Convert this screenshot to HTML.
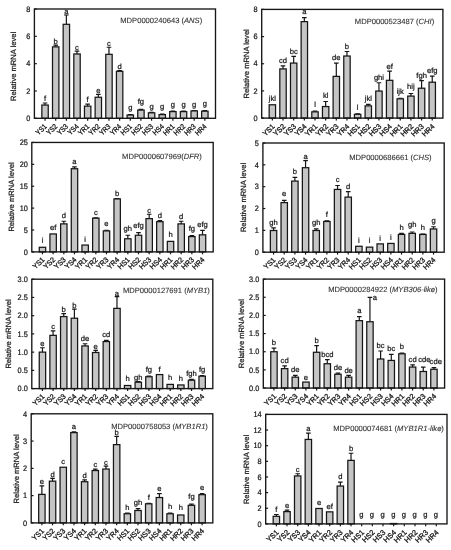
<!DOCTYPE html><html><head><meta charset="utf-8"><title>Relative mRNA level</title>
<style>html,body{margin:0;padding:0;background:#fff}svg{display:block}text{font-family:"Liberation Sans",Arial,Helvetica,sans-serif;font-size:7.6px;fill:#151515;stroke:#151515;stroke-width:0.22px;text-rendering:geometricPrecision}.ax{fill:none;stroke:#161616;stroke-width:1.35}.tk{stroke:#161616;stroke-width:1.2;fill:none}.b{fill:#c5c5c5;stroke:#161616;stroke-width:1.25}.e{stroke:#161616;stroke-width:1.2;fill:none}.x{text-anchor:end;font-size:7.4px;stroke-width:0.3px}.t{text-anchor:end;font-size:7.9px}.r{text-anchor:end}.ti{fill:#303030;stroke:#303030;stroke-width:0.1px}.m{text-anchor:middle}</style></head><body>
<svg width="451" height="550" viewBox="0 0 451 550">
<rect width="451" height="550" fill="#fff"/>
<g id="P1">
<path class="e" d="M45.05 105.05V103M42.75 103H47.35"/>
<rect class="b" x="41.85" y="105.05" width="6.4" height="13.25"/>
<text class="m" x="45.05" y="101.3">f</text>
<path class="e" d="M55.71 46.85V45.21M53.41 45.21H58.01"/>
<rect class="b" x="52.51" y="46.85" width="6.4" height="71.45"/>
<text class="m" x="55.71" y="44.1">b</text>
<path class="e" d="M66.36 24.3V15.01M64.06 15.01H68.66"/>
<rect class="b" x="63.16" y="24.3" width="6.4" height="94"/>
<text class="m" x="66.36" y="14.2">a</text>
<path class="e" d="M77.01 53.95V51.22M74.71 51.22H79.31"/>
<rect class="b" x="73.81" y="53.95" width="6.4" height="64.35"/>
<text class="m" x="77.01" y="50.3">c</text>
<path class="e" d="M87.66 106.14V104.09M85.36 104.09H89.96"/>
<rect class="b" x="84.46" y="106.14" width="6.4" height="12.16"/>
<text class="m" x="87.66" y="102.4">f</text>
<path class="e" d="M98.32 97.26V94.39M96.02 94.39H100.62"/>
<rect class="b" x="95.12" y="97.26" width="6.4" height="21.04"/>
<text class="m" x="98.32" y="92.9">e</text>
<path class="e" d="M108.97 54.36V47.26M106.67 47.26H111.27"/>
<rect class="b" x="105.77" y="54.36" width="6.4" height="63.94"/>
<text class="m" x="108.97" y="45.9">c</text>
<path class="e" d="M119.62 71.3V70.62M117.32 70.62H121.92"/>
<rect class="b" x="116.42" y="71.3" width="6.4" height="47"/>
<text class="m" x="119.62" y="68.9">d</text>
<path class="e" d="M130.28 115.02V114.61M127.98 114.61H132.58"/>
<rect class="b" x="127.08" y="115.02" width="6.4" height="3.28"/>
<text class="m" x="130.28" y="109.7">g</text>
<path class="e" d="M140.93 110.1V109.42M138.63 109.42H143.23"/>
<rect class="b" x="137.73" y="110.1" width="6.4" height="8.2"/>
<text class="m" x="140.93" y="103.7">fg</text>
<path class="e" d="M151.58 112.83V112.29M149.28 112.29H153.88"/>
<rect class="b" x="148.38" y="112.83" width="6.4" height="5.47"/>
<text class="m" x="151.58" y="108.5">g</text>
<path class="e" d="M162.24 114.61V114.2M159.94 114.2H164.54"/>
<rect class="b" x="159.04" y="114.61" width="6.4" height="3.69"/>
<text class="m" x="162.24" y="109.2">g</text>
<path class="e" d="M172.89 111.61V111.2M170.59 111.2H175.19"/>
<rect class="b" x="169.69" y="111.61" width="6.4" height="6.69"/>
<text class="m" x="172.89" y="107.4">g</text>
<path class="e" d="M183.54 111.61V111.2M181.24 111.2H185.84"/>
<rect class="b" x="180.34" y="111.61" width="6.4" height="6.69"/>
<text class="m" x="183.54" y="107.4">g</text>
<path class="e" d="M194.19 110.92V110.51M191.89 110.51H196.49"/>
<rect class="b" x="190.99" y="110.92" width="6.4" height="7.38"/>
<text class="m" x="194.19" y="107">g</text>
<path class="e" d="M204.85 111.2V110.65M202.55 110.65H207.15"/>
<rect class="b" x="201.65" y="111.2" width="6.4" height="7.1"/>
<text class="m" x="204.85" y="106.3">g</text>
<rect class="ax" x="34.4" y="9" width="181.1" height="109.3"/>
<path class="tk" d="M34.4 118.3h2.4"/>
<text class="t" transform="translate(30.4 121) scale(0.93 1)">0</text>
<path class="tk" d="M34.4 90.97h2.4"/>
<text class="t" transform="translate(30.4 93.67) scale(0.93 1)">2</text>
<path class="tk" d="M34.4 63.65h2.4"/>
<text class="t" transform="translate(30.4 66.35) scale(0.93 1)">4</text>
<path class="tk" d="M34.4 36.33h2.4"/>
<text class="t" transform="translate(30.4 39.03) scale(0.93 1)">6</text>
<path class="tk" d="M34.4 9h2.4"/>
<text class="t" transform="translate(30.4 11.7) scale(0.93 1)">8</text>
<path class="tk" d="M45.05 118.3v2.4"/>
<text class="x" transform="translate(47.25 127.1) rotate(-44) scale(0.86 1)">YS1</text>
<path class="tk" d="M55.71 118.3v2.4"/>
<text class="x" transform="translate(57.91 127.1) rotate(-44) scale(0.86 1)">YS2</text>
<path class="tk" d="M66.36 118.3v2.4"/>
<text class="x" transform="translate(68.56 127.1) rotate(-44) scale(0.86 1)">YS3</text>
<path class="tk" d="M77.01 118.3v2.4"/>
<text class="x" transform="translate(79.21 127.1) rotate(-44) scale(0.86 1)">YS4</text>
<path class="tk" d="M87.66 118.3v2.4"/>
<text class="x" transform="translate(89.86 127.1) rotate(-44) scale(0.86 1)">YR1</text>
<path class="tk" d="M98.32 118.3v2.4"/>
<text class="x" transform="translate(100.52 127.1) rotate(-44) scale(0.86 1)">YR2</text>
<path class="tk" d="M108.97 118.3v2.4"/>
<text class="x" transform="translate(111.17 127.1) rotate(-44) scale(0.86 1)">YR3</text>
<path class="tk" d="M119.62 118.3v2.4"/>
<text class="x" transform="translate(121.82 127.1) rotate(-44) scale(0.86 1)">YR4</text>
<path class="tk" d="M130.28 118.3v2.4"/>
<text class="x" transform="translate(132.48 127.1) rotate(-44) scale(0.86 1)">HS1</text>
<path class="tk" d="M140.93 118.3v2.4"/>
<text class="x" transform="translate(143.13 127.1) rotate(-44) scale(0.86 1)">HS2</text>
<path class="tk" d="M151.58 118.3v2.4"/>
<text class="x" transform="translate(153.78 127.1) rotate(-44) scale(0.86 1)">HS3</text>
<path class="tk" d="M162.24 118.3v2.4"/>
<text class="x" transform="translate(164.44 127.1) rotate(-44) scale(0.86 1)">HS4</text>
<path class="tk" d="M172.89 118.3v2.4"/>
<text class="x" transform="translate(175.09 127.1) rotate(-44) scale(0.86 1)">HR1</text>
<path class="tk" d="M183.54 118.3v2.4"/>
<text class="x" transform="translate(185.74 127.1) rotate(-44) scale(0.86 1)">HR2</text>
<path class="tk" d="M194.19 118.3v2.4"/>
<text class="x" transform="translate(196.39 127.1) rotate(-44) scale(0.86 1)">HR3</text>
<path class="tk" d="M204.85 118.3v2.4"/>
<text class="x" transform="translate(207.05 127.1) rotate(-44) scale(0.86 1)">HR4</text>
<text class="m" transform="translate(16.2 66.4) rotate(-90)">Relative mRNA level</text>
<text class="r ti" x="202.2" y="23.3">MDP0000240643 (<tspan font-style="italic">ANS</tspan>)</text>
</g>
<g id="P2">
<rect class="b" x="39.27" y="247.3" width="6.4" height="4.6"/>
<text class="m" x="42.47" y="243.4">i</text>
<rect class="b" x="49.94" y="233.95" width="6.4" height="17.95"/>
<text class="m" x="53.14" y="229.7">ef</text>
<path class="e" d="M63.81 223.88V221.25M61.51 221.25H66.11"/>
<rect class="b" x="60.61" y="223.88" width="6.4" height="28.02"/>
<text class="m" x="63.81" y="217.9">d</text>
<path class="e" d="M74.48 168.72V166.97M72.18 166.97H76.78"/>
<rect class="b" x="71.28" y="168.72" width="6.4" height="83.18"/>
<text class="m" x="74.48" y="163.6">a</text>
<rect class="b" x="81.95" y="245.07" width="6.4" height="6.83"/>
<text class="m" x="85.15" y="241.6">i</text>
<path class="e" d="M95.82 218.19V217.75M93.52 217.75H98.12"/>
<rect class="b" x="92.62" y="218.19" width="6.4" height="33.71"/>
<text class="m" x="95.82" y="214.6">c</text>
<path class="e" d="M106.49 230.89V230.23M104.19 230.23H108.79"/>
<rect class="b" x="103.29" y="230.89" width="6.4" height="21.01"/>
<text class="m" x="106.49" y="226.3">e</text>
<path class="e" d="M117.16 198.93V198.49M114.86 198.49H119.46"/>
<rect class="b" x="113.96" y="198.93" width="6.4" height="52.97"/>
<text class="m" x="117.16" y="195.7">b</text>
<path class="e" d="M127.84 238.77V235.26M125.54 235.26H130.14"/>
<rect class="b" x="124.64" y="238.77" width="6.4" height="13.13"/>
<text class="m" x="127.84" y="230.6">gh</text>
<path class="e" d="M138.51 235.26V232.64M136.21 232.64H140.81"/>
<rect class="b" x="135.31" y="235.26" width="6.4" height="16.64"/>
<text class="m" x="138.51" y="228.4">efg</text>
<path class="e" d="M149.18 218.63V214.25M146.88 214.25H151.48"/>
<rect class="b" x="145.98" y="218.63" width="6.4" height="33.27"/>
<text class="m" x="149.18" y="212.5">c</text>
<path class="e" d="M159.85 221.69V220.6M157.55 220.6H162.15"/>
<rect class="b" x="156.65" y="221.69" width="6.4" height="30.21"/>
<text class="m" x="159.85" y="218.4">d</text>
<rect class="b" x="167.32" y="241.39" width="6.4" height="10.51"/>
<text class="m" x="170.52" y="237.3">h</text>
<path class="e" d="M181.19 223.88V221.25M178.89 221.25H183.49"/>
<rect class="b" x="177.99" y="223.88" width="6.4" height="28.02"/>
<text class="m" x="181.19" y="219.1">d</text>
<path class="e" d="M191.86 236.58V235.7M189.56 235.7H194.16"/>
<rect class="b" x="188.66" y="236.58" width="6.4" height="15.32"/>
<text class="m" x="191.86" y="230.6">fg</text>
<path class="e" d="M202.53 234.83V230.45M200.23 230.45H204.83"/>
<rect class="b" x="199.33" y="234.83" width="6.4" height="17.07"/>
<text class="m" x="202.53" y="226.9">efg</text>
<rect class="ax" x="31.8" y="142.45" width="181.4" height="109.45"/>
<path class="tk" d="M31.8 251.9h2.4"/>
<text class="t" transform="translate(27.8 254.6) scale(0.93 1)">0</text>
<path class="tk" d="M31.8 230.01h2.4"/>
<text class="t" transform="translate(27.8 232.71) scale(0.93 1)">5</text>
<path class="tk" d="M31.8 208.12h2.4"/>
<text class="t" transform="translate(27.8 210.82) scale(0.93 1)">10</text>
<path class="tk" d="M31.8 186.23h2.4"/>
<text class="t" transform="translate(27.8 188.93) scale(0.93 1)">15</text>
<path class="tk" d="M31.8 164.34h2.4"/>
<text class="t" transform="translate(27.8 167.04) scale(0.93 1)">20</text>
<path class="tk" d="M31.8 142.45h2.4"/>
<text class="t" transform="translate(27.8 145.15) scale(0.93 1)">25</text>
<path class="tk" d="M42.47 251.9v2.4"/>
<text class="x" transform="translate(45.07 260.3) rotate(-44) scale(0.95 1)">YS1</text>
<path class="tk" d="M53.14 251.9v2.4"/>
<text class="x" transform="translate(55.74 260.3) rotate(-44) scale(0.95 1)">YS2</text>
<path class="tk" d="M63.81 251.9v2.4"/>
<text class="x" transform="translate(66.41 260.3) rotate(-44) scale(0.95 1)">YS3</text>
<path class="tk" d="M74.48 251.9v2.4"/>
<text class="x" transform="translate(77.08 260.3) rotate(-44) scale(0.95 1)">YS4</text>
<path class="tk" d="M85.15 251.9v2.4"/>
<text class="x" transform="translate(87.75 260.3) rotate(-44) scale(0.95 1)">YR1</text>
<path class="tk" d="M95.82 251.9v2.4"/>
<text class="x" transform="translate(98.42 260.3) rotate(-44) scale(0.95 1)">YR2</text>
<path class="tk" d="M106.49 251.9v2.4"/>
<text class="x" transform="translate(109.09 260.3) rotate(-44) scale(0.95 1)">YR3</text>
<path class="tk" d="M117.16 251.9v2.4"/>
<text class="x" transform="translate(119.76 260.3) rotate(-44) scale(0.95 1)">YR4</text>
<path class="tk" d="M127.84 251.9v2.4"/>
<text class="x" transform="translate(130.44 260.3) rotate(-44) scale(0.95 1)">HS1</text>
<path class="tk" d="M138.51 251.9v2.4"/>
<text class="x" transform="translate(141.11 260.3) rotate(-44) scale(0.95 1)">HS2</text>
<path class="tk" d="M149.18 251.9v2.4"/>
<text class="x" transform="translate(151.78 260.3) rotate(-44) scale(0.95 1)">HS3</text>
<path class="tk" d="M159.85 251.9v2.4"/>
<text class="x" transform="translate(162.45 260.3) rotate(-44) scale(0.95 1)">HS4</text>
<path class="tk" d="M170.52 251.9v2.4"/>
<text class="x" transform="translate(173.12 260.3) rotate(-44) scale(0.95 1)">HR1</text>
<path class="tk" d="M181.19 251.9v2.4"/>
<text class="x" transform="translate(183.79 260.3) rotate(-44) scale(0.95 1)">HR2</text>
<path class="tk" d="M191.86 251.9v2.4"/>
<text class="x" transform="translate(194.46 260.3) rotate(-44) scale(0.95 1)">HR3</text>
<path class="tk" d="M202.53 251.9v2.4"/>
<text class="x" transform="translate(205.13 260.3) rotate(-44) scale(0.95 1)">HR4</text>
<text class="m" transform="translate(13.8 197) rotate(-90)">Relative mRNA level</text>
<text class="r ti" x="201.9" y="159">MDP0000607969(<tspan font-style="italic">DFR</tspan>)</text>
</g>
<g id="P3">
<path class="e" d="M42.45 352.13V347.76M40.15 347.76H44.75"/>
<rect class="b" x="39.25" y="352.13" width="6.4" height="36.47"/>
<text class="m" x="42.45" y="345.6">e</text>
<path class="e" d="M53.09 335.36V330.8M50.79 330.8H55.39"/>
<rect class="b" x="49.89" y="335.36" width="6.4" height="53.24"/>
<text class="m" x="53.09" y="329.2">c</text>
<path class="e" d="M63.74 316.58V313.66M61.44 313.66H66.04"/>
<rect class="b" x="60.54" y="316.58" width="6.4" height="72.02"/>
<text class="m" x="63.74" y="311.9">b</text>
<path class="e" d="M74.39 318.22V309.1M72.09 309.1H76.69"/>
<rect class="b" x="71.19" y="318.22" width="6.4" height="70.38"/>
<text class="m" x="74.39" y="307.5">b</text>
<path class="e" d="M85.04 345.93V343.75M82.74 343.75H87.34"/>
<rect class="b" x="81.84" y="345.93" width="6.4" height="42.67"/>
<text class="m" x="85.04" y="341.4">de</text>
<path class="e" d="M95.68 352.5V350.31M93.38 350.31H97.98"/>
<rect class="b" x="92.48" y="352.5" width="6.4" height="36.1"/>
<text class="m" x="95.68" y="348.5">e</text>
<path class="e" d="M106.33 341.56V340.46M104.03 340.46H108.63"/>
<rect class="b" x="103.13" y="341.56" width="6.4" height="47.04"/>
<text class="m" x="106.33" y="337.4">cd</text>
<path class="e" d="M116.98 308.37V296.7M114.68 296.7H119.28"/>
<rect class="b" x="113.78" y="308.37" width="6.4" height="80.23"/>
<text class="m" x="116.98" y="295.7">a</text>
<rect class="b" x="124.42" y="385.5" width="6.4" height="3.1"/>
<text class="m" x="127.62" y="380.8">h</text>
<path class="e" d="M138.27 382.22V381.49M135.97 381.49H140.57"/>
<rect class="b" x="135.07" y="382.22" width="6.4" height="6.38"/>
<text class="m" x="138.27" y="379.7">gh</text>
<path class="e" d="M148.92 376.75V376.2M146.62 376.2H151.22"/>
<rect class="b" x="145.72" y="376.75" width="6.4" height="11.85"/>
<text class="m" x="148.92" y="372.3">fg</text>
<rect class="b" x="156.36" y="374.56" width="6.4" height="14.04"/>
<text class="m" x="159.56" y="371.9">f</text>
<rect class="b" x="167.01" y="384.41" width="6.4" height="4.19"/>
<text class="m" x="170.21" y="379.7">h</text>
<rect class="b" x="177.66" y="384.95" width="6.4" height="3.65"/>
<text class="m" x="180.86" y="381.2">h</text>
<path class="e" d="M191.51 380.21V379.3M189.21 379.3H193.81"/>
<rect class="b" x="188.31" y="380.21" width="6.4" height="8.39"/>
<text class="m" x="191.51" y="375.9">fgh</text>
<path class="e" d="M202.15 376.2V375.65M199.85 375.65H204.45"/>
<rect class="b" x="198.95" y="376.2" width="6.4" height="12.4"/>
<text class="m" x="202.15" y="371.9">fg</text>
<rect class="ax" x="31.8" y="279.2" width="181" height="109.4"/>
<path class="tk" d="M31.8 388.6h2.4"/>
<text class="t" transform="translate(27.8 391.3) scale(0.93 1)">0.0</text>
<path class="tk" d="M31.8 370.37h2.4"/>
<text class="t" transform="translate(27.8 373.07) scale(0.93 1)">0.5</text>
<path class="tk" d="M31.8 352.13h2.4"/>
<text class="t" transform="translate(27.8 354.83) scale(0.93 1)">1.0</text>
<path class="tk" d="M31.8 333.9h2.4"/>
<text class="t" transform="translate(27.8 336.6) scale(0.93 1)">1.5</text>
<path class="tk" d="M31.8 315.67h2.4"/>
<text class="t" transform="translate(27.8 318.37) scale(0.93 1)">2.0</text>
<path class="tk" d="M31.8 297.43h2.4"/>
<text class="t" transform="translate(27.8 300.13) scale(0.93 1)">2.5</text>
<path class="tk" d="M31.8 279.2h2.4"/>
<text class="t" transform="translate(27.8 281.9) scale(0.93 1)">3.0</text>
<path class="tk" d="M42.45 388.6v2.4"/>
<text class="x" transform="translate(45.05 397) rotate(-44) scale(0.95 1)">YS1</text>
<path class="tk" d="M53.09 388.6v2.4"/>
<text class="x" transform="translate(55.69 397) rotate(-44) scale(0.95 1)">YS2</text>
<path class="tk" d="M63.74 388.6v2.4"/>
<text class="x" transform="translate(66.34 397) rotate(-44) scale(0.95 1)">YS3</text>
<path class="tk" d="M74.39 388.6v2.4"/>
<text class="x" transform="translate(76.99 397) rotate(-44) scale(0.95 1)">YS4</text>
<path class="tk" d="M85.04 388.6v2.4"/>
<text class="x" transform="translate(87.64 397) rotate(-44) scale(0.95 1)">YR1</text>
<path class="tk" d="M95.68 388.6v2.4"/>
<text class="x" transform="translate(98.28 397) rotate(-44) scale(0.95 1)">YR2</text>
<path class="tk" d="M106.33 388.6v2.4"/>
<text class="x" transform="translate(108.93 397) rotate(-44) scale(0.95 1)">YR3</text>
<path class="tk" d="M116.98 388.6v2.4"/>
<text class="x" transform="translate(119.58 397) rotate(-44) scale(0.95 1)">YR4</text>
<path class="tk" d="M127.62 388.6v2.4"/>
<text class="x" transform="translate(130.22 397) rotate(-44) scale(0.95 1)">HS1</text>
<path class="tk" d="M138.27 388.6v2.4"/>
<text class="x" transform="translate(140.87 397) rotate(-44) scale(0.95 1)">HS2</text>
<path class="tk" d="M148.92 388.6v2.4"/>
<text class="x" transform="translate(151.52 397) rotate(-44) scale(0.95 1)">HS3</text>
<path class="tk" d="M159.56 388.6v2.4"/>
<text class="x" transform="translate(162.16 397) rotate(-44) scale(0.95 1)">HS4</text>
<path class="tk" d="M170.21 388.6v2.4"/>
<text class="x" transform="translate(172.81 397) rotate(-44) scale(0.95 1)">HR1</text>
<path class="tk" d="M180.86 388.6v2.4"/>
<text class="x" transform="translate(183.46 397) rotate(-44) scale(0.95 1)">HR2</text>
<path class="tk" d="M191.51 388.6v2.4"/>
<text class="x" transform="translate(194.11 397) rotate(-44) scale(0.95 1)">HR3</text>
<path class="tk" d="M202.15 388.6v2.4"/>
<text class="x" transform="translate(204.75 397) rotate(-44) scale(0.95 1)">HR4</text>
<text class="m" transform="translate(11 334) rotate(-90)">Relative mRNA level</text>
<text class="r ti" x="209.9" y="293.2">MDP0000127691 (<tspan font-style="italic">MYB1</tspan>)</text>
</g>
<g id="P4">
<path class="e" d="M41.88 494.4V485.94M39.58 485.94H44.18"/>
<rect class="b" x="38.68" y="494.4" width="6.4" height="28.5"/>
<text class="m" x="41.88" y="483.5">e</text>
<path class="e" d="M52.56 481.17V478.44M50.26 478.44H54.86"/>
<rect class="b" x="49.36" y="481.17" width="6.4" height="41.73"/>
<text class="m" x="52.56" y="476.8">d</text>
<rect class="b" x="60.05" y="467.26" width="6.4" height="55.64"/>
<text class="m" x="63.25" y="464.2">c</text>
<path class="e" d="M73.93 432.62V431.8M71.63 431.8H76.23"/>
<rect class="b" x="70.73" y="432.62" width="6.4" height="90.28"/>
<text class="m" x="73.93" y="429.2">a</text>
<path class="e" d="M84.61 481.71V479.94M82.31 479.94H86.91"/>
<rect class="b" x="81.41" y="481.71" width="6.4" height="41.19"/>
<text class="m" x="84.61" y="477.5">d</text>
<path class="e" d="M95.29 470.53V469.03M92.99 469.03H97.59"/>
<rect class="b" x="92.09" y="470.53" width="6.4" height="52.37"/>
<text class="m" x="95.29" y="466.8">c</text>
<path class="e" d="M105.98 469.03V466.17M103.68 466.17H108.28"/>
<rect class="b" x="102.78" y="469.03" width="6.4" height="53.87"/>
<text class="m" x="105.98" y="464.6">c</text>
<path class="e" d="M116.66 444.62V436.44M114.36 436.44H118.96"/>
<rect class="b" x="113.46" y="444.62" width="6.4" height="78.28"/>
<text class="m" x="116.66" y="435.1">b</text>
<path class="e" d="M127.34 513.76V513.22M125.04 513.22H129.64"/>
<rect class="b" x="124.14" y="513.76" width="6.4" height="9.14"/>
<text class="m" x="127.34" y="509.8">h</text>
<path class="e" d="M138.02 510.49V508.72M135.72 508.72H140.32"/>
<rect class="b" x="134.82" y="510.49" width="6.4" height="12.41"/>
<text class="m" x="138.02" y="504.7">gh</text>
<path class="e" d="M148.71 503.81V503.4M146.41 503.4H151.01"/>
<rect class="b" x="145.51" y="503.81" width="6.4" height="19.09"/>
<text class="m" x="148.71" y="500.2">f</text>
<path class="e" d="M159.39 497.53V493.58M157.09 493.58H161.69"/>
<rect class="b" x="156.19" y="497.53" width="6.4" height="25.37"/>
<text class="m" x="159.39" y="490.7">e</text>
<path class="e" d="M170.07 513.76V513.22M167.77 513.22H172.37"/>
<rect class="b" x="166.87" y="513.76" width="6.4" height="9.14"/>
<text class="m" x="170.07" y="508.6">h</text>
<rect class="b" x="177.55" y="514.99" width="6.4" height="7.91"/>
<text class="m" x="180.75" y="510.2">h</text>
<path class="e" d="M191.44 505.31V504.22M189.14 504.22H193.74"/>
<rect class="b" x="188.24" y="505.31" width="6.4" height="17.59"/>
<text class="m" x="191.44" y="499.1">fg</text>
<path class="e" d="M202.12 494.67V493.72M199.82 493.72H204.42"/>
<rect class="b" x="198.92" y="494.67" width="6.4" height="28.23"/>
<text class="m" x="202.12" y="490.2">e</text>
<rect class="ax" x="31.2" y="413.8" width="181.6" height="109.1"/>
<path class="tk" d="M31.2 522.9h2.4"/>
<text class="t" transform="translate(27.2 525.6) scale(0.93 1)">0</text>
<path class="tk" d="M31.2 495.62h2.4"/>
<text class="t" transform="translate(27.2 498.32) scale(0.93 1)">1</text>
<path class="tk" d="M31.2 468.35h2.4"/>
<text class="t" transform="translate(27.2 471.05) scale(0.93 1)">2</text>
<path class="tk" d="M31.2 441.07h2.4"/>
<text class="t" transform="translate(27.2 443.77) scale(0.93 1)">3</text>
<path class="tk" d="M31.2 413.8h2.4"/>
<text class="t" transform="translate(27.2 416.5) scale(0.93 1)">4</text>
<path class="tk" d="M41.88 522.9v2.4"/>
<text class="x" transform="translate(44.48 531.6) rotate(-44) scale(0.96 1)">YS1</text>
<path class="tk" d="M52.56 522.9v2.4"/>
<text class="x" transform="translate(55.16 531.6) rotate(-44) scale(0.96 1)">YS2</text>
<path class="tk" d="M63.25 522.9v2.4"/>
<text class="x" transform="translate(65.85 531.6) rotate(-44) scale(0.96 1)">YS3</text>
<path class="tk" d="M73.93 522.9v2.4"/>
<text class="x" transform="translate(76.53 531.6) rotate(-44) scale(0.96 1)">YS4</text>
<path class="tk" d="M84.61 522.9v2.4"/>
<text class="x" transform="translate(87.21 531.6) rotate(-44) scale(0.96 1)">YR1</text>
<path class="tk" d="M95.29 522.9v2.4"/>
<text class="x" transform="translate(97.89 531.6) rotate(-44) scale(0.96 1)">YR2</text>
<path class="tk" d="M105.98 522.9v2.4"/>
<text class="x" transform="translate(108.58 531.6) rotate(-44) scale(0.96 1)">YR3</text>
<path class="tk" d="M116.66 522.9v2.4"/>
<text class="x" transform="translate(119.26 531.6) rotate(-44) scale(0.96 1)">YR4</text>
<path class="tk" d="M127.34 522.9v2.4"/>
<text class="x" transform="translate(129.94 531.6) rotate(-44) scale(0.96 1)">HS1</text>
<path class="tk" d="M138.02 522.9v2.4"/>
<text class="x" transform="translate(140.62 531.6) rotate(-44) scale(0.96 1)">HS2</text>
<path class="tk" d="M148.71 522.9v2.4"/>
<text class="x" transform="translate(151.31 531.6) rotate(-44) scale(0.96 1)">HS3</text>
<path class="tk" d="M159.39 522.9v2.4"/>
<text class="x" transform="translate(161.99 531.6) rotate(-44) scale(0.96 1)">HS4</text>
<path class="tk" d="M170.07 522.9v2.4"/>
<text class="x" transform="translate(172.67 531.6) rotate(-44) scale(0.96 1)">HR1</text>
<path class="tk" d="M180.75 522.9v2.4"/>
<text class="x" transform="translate(183.35 531.6) rotate(-44) scale(0.96 1)">HR2</text>
<path class="tk" d="M191.44 522.9v2.4"/>
<text class="x" transform="translate(194.04 531.6) rotate(-44) scale(0.96 1)">HR3</text>
<path class="tk" d="M202.12 522.9v2.4"/>
<text class="x" transform="translate(204.72 531.6) rotate(-44) scale(0.96 1)">HR4</text>
<text class="m" transform="translate(18.6 468.9) rotate(-90)">Relative mRNA level</text>
<text class="r ti" x="207.9" y="429">MDP0000758053 (<tspan font-style="italic">MYB1R1</tspan>)</text>
</g>
<g id="P5">
<rect class="b" x="269.16" y="104.78" width="6.4" height="13.32"/>
<text class="m" x="272.36" y="100.7">jkl</text>
<path class="e" d="M283.02 68.91V65.92M280.72 65.92H285.32"/>
<rect class="b" x="279.82" y="68.91" width="6.4" height="49.19"/>
<text class="m" x="283.02" y="63">cd</text>
<path class="e" d="M293.68 63.07V56.41M291.38 56.41H295.98"/>
<rect class="b" x="290.48" y="63.07" width="6.4" height="55.03"/>
<text class="m" x="293.68" y="54.1">bc</text>
<path class="e" d="M304.34 21.63V17.55M302.04 17.55H306.64"/>
<rect class="b" x="301.14" y="21.63" width="6.4" height="96.47"/>
<text class="m" x="304.34" y="14.2">a</text>
<path class="e" d="M314.99 111.85V111.03M312.69 111.03H317.29"/>
<rect class="b" x="311.79" y="111.85" width="6.4" height="6.25"/>
<text class="m" x="314.99" y="107.3">l</text>
<path class="e" d="M325.65 106.55V101.52M323.35 101.52H327.95"/>
<rect class="b" x="322.45" y="106.55" width="6.4" height="11.55"/>
<text class="m" x="325.65" y="98.4">kl</text>
<path class="e" d="M336.31 76.39V63.07M334.01 63.07H338.61"/>
<rect class="b" x="333.11" y="76.39" width="6.4" height="41.71"/>
<text class="m" x="336.31" y="60.1">de</text>
<path class="e" d="M346.97 56.01V51.52M344.67 51.52H349.27"/>
<rect class="b" x="343.77" y="56.01" width="6.4" height="62.09"/>
<text class="m" x="346.97" y="48.5">b</text>
<path class="e" d="M357.63 114.3V113.89M355.33 113.89H359.93"/>
<rect class="b" x="354.43" y="114.3" width="6.4" height="3.8"/>
<text class="m" x="357.63" y="110.2">l</text>
<path class="e" d="M368.29 105.87V104.38M365.99 104.38H370.59"/>
<rect class="b" x="365.09" y="105.87" width="6.4" height="12.23"/>
<text class="m" x="368.29" y="100.6">jkl</text>
<path class="e" d="M378.95 91.06V82.77M376.65 82.77H381.25"/>
<rect class="b" x="375.75" y="91.06" width="6.4" height="27.04"/>
<text class="m" x="378.95" y="79.8">ghi</text>
<path class="e" d="M389.61 80.33V71.09M387.31 71.09H391.91"/>
<rect class="b" x="386.41" y="80.33" width="6.4" height="37.77"/>
<text class="m" x="389.61" y="68.5">ef</text>
<path class="e" d="M400.26 98.81V98.26M397.96 98.26H402.56"/>
<rect class="b" x="397.06" y="98.81" width="6.4" height="19.29"/>
<text class="m" x="400.26" y="94.2">ijk</text>
<path class="e" d="M410.92 96.09V93.51M408.62 93.51H413.22"/>
<rect class="b" x="407.72" y="96.09" width="6.4" height="22.01"/>
<text class="m" x="410.92" y="89.1">hij</text>
<path class="e" d="M421.58 88.21V80.6M419.28 80.6H423.88"/>
<rect class="b" x="418.38" y="88.21" width="6.4" height="29.89"/>
<text class="m" x="421.58" y="78">fgh</text>
<path class="e" d="M432.24 82.23V76.11M429.94 76.11H434.54"/>
<rect class="b" x="429.04" y="82.23" width="6.4" height="35.87"/>
<text class="m" x="432.24" y="73.1">efg</text>
<rect class="ax" x="261.7" y="9.4" width="181.2" height="108.7"/>
<path class="tk" d="M261.7 118.1h2.4"/>
<text class="t" transform="translate(257.7 120.8) scale(0.93 1)">0</text>
<path class="tk" d="M261.7 90.92h2.4"/>
<text class="t" transform="translate(257.7 93.62) scale(0.93 1)">2</text>
<path class="tk" d="M261.7 63.75h2.4"/>
<text class="t" transform="translate(257.7 66.45) scale(0.93 1)">4</text>
<path class="tk" d="M261.7 36.58h2.4"/>
<text class="t" transform="translate(257.7 39.28) scale(0.93 1)">6</text>
<path class="tk" d="M261.7 9.4h2.4"/>
<text class="t" transform="translate(257.7 12.1) scale(0.93 1)">8</text>
<path class="tk" d="M272.36 118.1v2.4"/>
<text class="x" transform="translate(275.26 127) rotate(-44) scale(0.98 1)">YS1</text>
<path class="tk" d="M283.02 118.1v2.4"/>
<text class="x" transform="translate(285.92 127) rotate(-44) scale(0.98 1)">YS2</text>
<path class="tk" d="M293.68 118.1v2.4"/>
<text class="x" transform="translate(296.58 127) rotate(-44) scale(0.98 1)">YS3</text>
<path class="tk" d="M304.34 118.1v2.4"/>
<text class="x" transform="translate(307.24 127) rotate(-44) scale(0.98 1)">YS4</text>
<path class="tk" d="M314.99 118.1v2.4"/>
<text class="x" transform="translate(317.89 127) rotate(-44) scale(0.98 1)">YR1</text>
<path class="tk" d="M325.65 118.1v2.4"/>
<text class="x" transform="translate(328.55 127) rotate(-44) scale(0.98 1)">YR2</text>
<path class="tk" d="M336.31 118.1v2.4"/>
<text class="x" transform="translate(339.21 127) rotate(-44) scale(0.98 1)">YR3</text>
<path class="tk" d="M346.97 118.1v2.4"/>
<text class="x" transform="translate(349.87 127) rotate(-44) scale(0.98 1)">YR4</text>
<path class="tk" d="M357.63 118.1v2.4"/>
<text class="x" transform="translate(360.53 127) rotate(-44) scale(0.98 1)">HS1</text>
<path class="tk" d="M368.29 118.1v2.4"/>
<text class="x" transform="translate(371.19 127) rotate(-44) scale(0.98 1)">HS2</text>
<path class="tk" d="M378.95 118.1v2.4"/>
<text class="x" transform="translate(381.85 127) rotate(-44) scale(0.98 1)">HS3</text>
<path class="tk" d="M389.61 118.1v2.4"/>
<text class="x" transform="translate(392.51 127) rotate(-44) scale(0.98 1)">HS4</text>
<path class="tk" d="M400.26 118.1v2.4"/>
<text class="x" transform="translate(403.16 127) rotate(-44) scale(0.98 1)">HR1</text>
<path class="tk" d="M410.92 118.1v2.4"/>
<text class="x" transform="translate(413.82 127) rotate(-44) scale(0.98 1)">HR2</text>
<path class="tk" d="M421.58 118.1v2.4"/>
<text class="x" transform="translate(424.48 127) rotate(-44) scale(0.98 1)">HR3</text>
<path class="tk" d="M432.24 118.1v2.4"/>
<text class="x" transform="translate(435.14 127) rotate(-44) scale(0.98 1)">HR4</text>
<text class="m" transform="translate(248.6 63.8) rotate(-90)">Relative mRNA level</text>
<text class="r ti" x="434.2" y="24">MDP0000523487 (<tspan font-style="italic">CHI</tspan>)</text>
</g>
<g id="P6">
<path class="e" d="M273.56 230.49V227.85M271.26 227.85H275.86"/>
<rect class="b" x="270.36" y="230.49" width="6.4" height="21.71"/>
<text class="m" x="273.56" y="224.6">gh</text>
<path class="e" d="M284.23 202.6V200.4M281.93 200.4H286.53"/>
<rect class="b" x="281.03" y="202.6" width="6.4" height="49.6"/>
<text class="m" x="284.23" y="196.4">e</text>
<path class="e" d="M294.89 181.09V177.35M292.59 177.35H297.19"/>
<rect class="b" x="291.69" y="181.09" width="6.4" height="71.11"/>
<text class="m" x="294.89" y="174.2">b</text>
<path class="e" d="M305.56 167.7V160.67M303.26 160.67H307.86"/>
<rect class="b" x="302.36" y="167.7" width="6.4" height="84.5"/>
<text class="m" x="305.56" y="158.7">a</text>
<path class="e" d="M316.22 230.49V228.96M313.92 228.96H318.52"/>
<rect class="b" x="313.02" y="230.49" width="6.4" height="21.71"/>
<text class="m" x="316.22" y="225">gh</text>
<path class="e" d="M326.89 221.47V220.82M324.59 220.82H329.19"/>
<rect class="b" x="323.69" y="221.47" width="6.4" height="30.73"/>
<text class="m" x="326.89" y="217.2">f</text>
<path class="e" d="M337.55 189.43V185.48M335.25 185.48H339.85"/>
<rect class="b" x="334.35" y="189.43" width="6.4" height="62.77"/>
<text class="m" x="337.55" y="182.4">c</text>
<path class="e" d="M348.22 197.12V191.64M345.92 191.64H350.52"/>
<rect class="b" x="345.02" y="197.12" width="6.4" height="55.08"/>
<text class="m" x="348.22" y="189.1">d</text>
<rect class="b" x="355.68" y="246.28" width="6.4" height="5.92"/>
<text class="m" x="358.88" y="242.9">i</text>
<rect class="b" x="366.35" y="247.15" width="6.4" height="5.05"/>
<text class="m" x="369.55" y="242.9">i</text>
<rect class="b" x="377.01" y="243.88" width="6.4" height="8.32"/>
<text class="m" x="380.21" y="240.9">i</text>
<rect class="b" x="387.68" y="243.44" width="6.4" height="8.76"/>
<text class="m" x="390.88" y="239.8">i</text>
<path class="e" d="M401.54 234.42V233.33M399.24 233.33H403.84"/>
<rect class="b" x="398.34" y="234.42" width="6.4" height="17.78"/>
<text class="m" x="401.54" y="230.2">h</text>
<path class="e" d="M412.21 233.33V232.02M409.91 232.02H414.51"/>
<rect class="b" x="409.01" y="233.33" width="6.4" height="18.87"/>
<text class="m" x="412.21" y="226.5">gh</text>
<path class="e" d="M422.87 234.42V233.99M420.57 233.99H425.17"/>
<rect class="b" x="419.67" y="234.42" width="6.4" height="17.78"/>
<text class="m" x="422.87" y="230.2">h</text>
<path class="e" d="M433.54 228.94V226.73M431.24 226.73H435.84"/>
<rect class="b" x="430.34" y="228.94" width="6.4" height="23.26"/>
<text class="m" x="433.54" y="223.2">g</text>
<rect class="ax" x="262.9" y="143" width="181.3" height="109.2"/>
<path class="tk" d="M262.9 252.2h2.4"/>
<text class="t" transform="translate(258.9 254.9) scale(0.93 1)">0</text>
<path class="tk" d="M262.9 230.36h2.4"/>
<text class="t" transform="translate(258.9 233.06) scale(0.93 1)">1</text>
<path class="tk" d="M262.9 208.52h2.4"/>
<text class="t" transform="translate(258.9 211.22) scale(0.93 1)">2</text>
<path class="tk" d="M262.9 186.68h2.4"/>
<text class="t" transform="translate(258.9 189.38) scale(0.93 1)">3</text>
<path class="tk" d="M262.9 164.84h2.4"/>
<text class="t" transform="translate(258.9 167.54) scale(0.93 1)">4</text>
<path class="tk" d="M262.9 143h2.4"/>
<text class="t" transform="translate(258.9 145.7) scale(0.93 1)">5</text>
<path class="tk" d="M273.56 252.2v2.4"/>
<text class="x" transform="translate(276.16 260.6) rotate(-44) scale(0.95 1)">YS1</text>
<path class="tk" d="M284.23 252.2v2.4"/>
<text class="x" transform="translate(286.83 260.6) rotate(-44) scale(0.95 1)">YS2</text>
<path class="tk" d="M294.89 252.2v2.4"/>
<text class="x" transform="translate(297.49 260.6) rotate(-44) scale(0.95 1)">YS3</text>
<path class="tk" d="M305.56 252.2v2.4"/>
<text class="x" transform="translate(308.16 260.6) rotate(-44) scale(0.95 1)">YS4</text>
<path class="tk" d="M316.22 252.2v2.4"/>
<text class="x" transform="translate(318.82 260.6) rotate(-44) scale(0.95 1)">YR1</text>
<path class="tk" d="M326.89 252.2v2.4"/>
<text class="x" transform="translate(329.49 260.6) rotate(-44) scale(0.95 1)">YR2</text>
<path class="tk" d="M337.55 252.2v2.4"/>
<text class="x" transform="translate(340.15 260.6) rotate(-44) scale(0.95 1)">YR3</text>
<path class="tk" d="M348.22 252.2v2.4"/>
<text class="x" transform="translate(350.82 260.6) rotate(-44) scale(0.95 1)">YR4</text>
<path class="tk" d="M358.88 252.2v2.4"/>
<text class="x" transform="translate(361.48 260.6) rotate(-44) scale(0.95 1)">HS1</text>
<path class="tk" d="M369.55 252.2v2.4"/>
<text class="x" transform="translate(372.15 260.6) rotate(-44) scale(0.95 1)">HS2</text>
<path class="tk" d="M380.21 252.2v2.4"/>
<text class="x" transform="translate(382.81 260.6) rotate(-44) scale(0.95 1)">HS3</text>
<path class="tk" d="M390.88 252.2v2.4"/>
<text class="x" transform="translate(393.48 260.6) rotate(-44) scale(0.95 1)">HS4</text>
<path class="tk" d="M401.54 252.2v2.4"/>
<text class="x" transform="translate(404.14 260.6) rotate(-44) scale(0.95 1)">HR1</text>
<path class="tk" d="M412.21 252.2v2.4"/>
<text class="x" transform="translate(414.81 260.6) rotate(-44) scale(0.95 1)">HR2</text>
<path class="tk" d="M422.87 252.2v2.4"/>
<text class="x" transform="translate(425.47 260.6) rotate(-44) scale(0.95 1)">HR3</text>
<path class="tk" d="M433.54 252.2v2.4"/>
<text class="x" transform="translate(436.14 260.6) rotate(-44) scale(0.95 1)">HR4</text>
<text class="m" transform="translate(246.2 197.5) rotate(-90)">Relative mRNA level</text>
<text class="r ti" x="431.6" y="159.8">MDP0000686661 (<tspan font-style="italic">CHS</tspan>)</text>
</g>
<g id="P7">
<path class="e" d="M273.96 351.73V348.1M271.66 348.1H276.26"/>
<rect class="b" x="270.76" y="351.73" width="6.4" height="36.32"/>
<text class="m" x="273.96" y="345.2">b</text>
<path class="e" d="M284.63 368.62V365.9M282.33 365.9H286.93"/>
<rect class="b" x="281.43" y="368.62" width="6.4" height="19.43"/>
<text class="m" x="284.63" y="362.9">cd</text>
<path class="e" d="M295.29 377.16V375.34M292.99 375.34H297.59"/>
<rect class="b" x="292.09" y="377.16" width="6.4" height="10.89"/>
<text class="m" x="295.29" y="372.4">de</text>
<rect class="b" x="302.76" y="382.06" width="6.4" height="5.99"/>
<text class="m" x="305.96" y="379.5">e</text>
<path class="e" d="M316.62 352.28V345.56M314.32 345.56H318.92"/>
<rect class="b" x="313.42" y="352.28" width="6.4" height="35.77"/>
<text class="m" x="316.62" y="342.9">b</text>
<path class="e" d="M327.29 363.72V359.72M324.99 359.72H329.59"/>
<rect class="b" x="324.09" y="363.72" width="6.4" height="24.33"/>
<text class="m" x="327.29" y="357.3">bcd</text>
<path class="e" d="M337.95 374.25V373.16M335.65 373.16H340.25"/>
<rect class="b" x="334.75" y="374.25" width="6.4" height="13.8"/>
<text class="m" x="337.95" y="369.5">de</text>
<path class="e" d="M348.62 377.16V375.34M346.32 375.34H350.92"/>
<rect class="b" x="345.42" y="377.16" width="6.4" height="10.89"/>
<text class="m" x="348.62" y="372.9">de</text>
<path class="e" d="M359.28 320.65V316.65M356.98 316.65H361.58"/>
<rect class="b" x="356.08" y="320.65" width="6.4" height="67.4"/>
<text class="m" x="359.28" y="313.4">a</text>
<path class="e" d="M369.95 321.74V297.4M367.65 297.4H372.25"/>
<rect class="b" x="366.75" y="321.74" width="6.4" height="66.31"/>
<text class="m" x="374.75" y="300.4">a</text>
<path class="e" d="M380.61 359V351.01M378.31 351.01H382.91"/>
<rect class="b" x="377.41" y="359" width="6.4" height="29.05"/>
<text class="m" x="380.61" y="347.8">bc</text>
<path class="e" d="M391.28 360.45V354.46M388.98 354.46H393.58"/>
<rect class="b" x="388.08" y="360.45" width="6.4" height="27.6"/>
<text class="m" x="391.28" y="350.7">bc</text>
<path class="e" d="M401.94 353.8V353.19M399.64 353.19H404.24"/>
<rect class="b" x="398.74" y="353.8" width="6.4" height="34.25"/>
<text class="m" x="401.94" y="348.9">b</text>
<path class="e" d="M412.61 367.06V364.88M410.31 364.88H414.91"/>
<rect class="b" x="409.41" y="367.06" width="6.4" height="20.99"/>
<text class="m" x="412.61" y="361.8">cd</text>
<path class="e" d="M423.27 371.49V367.13M420.97 367.13H425.57"/>
<rect class="b" x="420.07" y="371.49" width="6.4" height="16.56"/>
<text class="m" x="424.27" y="361.8">cde</text>
<path class="e" d="M433.94 369.27V367.71M431.64 367.71H436.24"/>
<rect class="b" x="430.74" y="369.27" width="6.4" height="18.78"/>
<text class="m" x="435.74" y="364">cde</text>
<rect class="ax" x="263.3" y="279.1" width="181.3" height="108.95"/>
<path class="tk" d="M263.3 388.05h2.4"/>
<text class="t" transform="translate(259.3 390.75) scale(0.93 1)">0.0</text>
<path class="tk" d="M263.3 369.89h2.4"/>
<text class="t" transform="translate(259.3 372.59) scale(0.93 1)">0.5</text>
<path class="tk" d="M263.3 351.73h2.4"/>
<text class="t" transform="translate(259.3 354.43) scale(0.93 1)">1.0</text>
<path class="tk" d="M263.3 333.58h2.4"/>
<text class="t" transform="translate(259.3 336.28) scale(0.93 1)">1.5</text>
<path class="tk" d="M263.3 315.42h2.4"/>
<text class="t" transform="translate(259.3 318.12) scale(0.93 1)">2.0</text>
<path class="tk" d="M263.3 297.26h2.4"/>
<text class="t" transform="translate(259.3 299.96) scale(0.93 1)">2.5</text>
<path class="tk" d="M263.3 279.1h2.4"/>
<text class="t" transform="translate(259.3 281.8) scale(0.93 1)">3.0</text>
<path class="tk" d="M273.96 388.05v2.4"/>
<text class="x" transform="translate(276.76 396.85) rotate(-44) scale(0.96 1)">YS1</text>
<path class="tk" d="M284.63 388.05v2.4"/>
<text class="x" transform="translate(287.43 396.85) rotate(-44) scale(0.96 1)">YS2</text>
<path class="tk" d="M295.29 388.05v2.4"/>
<text class="x" transform="translate(298.09 396.85) rotate(-44) scale(0.96 1)">YS3</text>
<path class="tk" d="M305.96 388.05v2.4"/>
<text class="x" transform="translate(308.76 396.85) rotate(-44) scale(0.96 1)">YS4</text>
<path class="tk" d="M316.62 388.05v2.4"/>
<text class="x" transform="translate(319.42 396.85) rotate(-44) scale(0.96 1)">YR1</text>
<path class="tk" d="M327.29 388.05v2.4"/>
<text class="x" transform="translate(330.09 396.85) rotate(-44) scale(0.96 1)">YR2</text>
<path class="tk" d="M337.95 388.05v2.4"/>
<text class="x" transform="translate(340.75 396.85) rotate(-44) scale(0.96 1)">YR3</text>
<path class="tk" d="M348.62 388.05v2.4"/>
<text class="x" transform="translate(351.42 396.85) rotate(-44) scale(0.96 1)">YR4</text>
<path class="tk" d="M359.28 388.05v2.4"/>
<text class="x" transform="translate(362.08 396.85) rotate(-44) scale(0.96 1)">HS1</text>
<path class="tk" d="M369.95 388.05v2.4"/>
<text class="x" transform="translate(372.75 396.85) rotate(-44) scale(0.96 1)">HS2</text>
<path class="tk" d="M380.61 388.05v2.4"/>
<text class="x" transform="translate(383.41 396.85) rotate(-44) scale(0.96 1)">HS3</text>
<path class="tk" d="M391.28 388.05v2.4"/>
<text class="x" transform="translate(394.08 396.85) rotate(-44) scale(0.96 1)">HS4</text>
<path class="tk" d="M401.94 388.05v2.4"/>
<text class="x" transform="translate(404.74 396.85) rotate(-44) scale(0.96 1)">HR1</text>
<path class="tk" d="M412.61 388.05v2.4"/>
<text class="x" transform="translate(415.41 396.85) rotate(-44) scale(0.96 1)">HR2</text>
<path class="tk" d="M423.27 388.05v2.4"/>
<text class="x" transform="translate(426.07 396.85) rotate(-44) scale(0.96 1)">HR3</text>
<path class="tk" d="M433.94 388.05v2.4"/>
<text class="x" transform="translate(436.74 396.85) rotate(-44) scale(0.96 1)">HR4</text>
<text class="m" transform="translate(243.7 333.7) rotate(-90)">Relative mRNA level</text>
<text class="r ti" x="437.6" y="292.4">MDP0000284922 (<tspan font-style="italic">MYB306-like</tspan>)</text>
</g>
<g id="P8">
<path class="e" d="M276.36 516.31V514.51M274.06 514.51H278.66"/>
<rect class="b" x="273.16" y="516.31" width="6.4" height="7.59"/>
<text class="m" x="276.36" y="512.3">f</text>
<path class="e" d="M287.03 511.62V510.06M284.73 510.06H289.33"/>
<rect class="b" x="283.83" y="511.62" width="6.4" height="12.28"/>
<text class="m" x="287.03" y="507.9">e</text>
<path class="e" d="M297.69 475.95V473.76M295.39 473.76H299.99"/>
<rect class="b" x="294.49" y="475.95" width="6.4" height="47.95"/>
<text class="m" x="297.69" y="471.7">c</text>
<path class="e" d="M308.36 439.43V433.17M306.06 433.17H310.66"/>
<rect class="b" x="305.16" y="439.43" width="6.4" height="84.47"/>
<text class="m" x="308.36" y="430.7">a</text>
<rect class="b" x="315.82" y="508.49" width="6.4" height="15.41"/>
<text class="m" x="319.02" y="505.2">e</text>
<rect class="b" x="326.49" y="511.85" width="6.4" height="12.05"/>
<text class="m" x="329.69" y="508.5">ef</text>
<path class="e" d="M340.35 486.04V482.21M338.05 482.21H342.65"/>
<rect class="b" x="337.15" y="486.04" width="6.4" height="37.86"/>
<text class="m" x="340.35" y="479">d</text>
<path class="e" d="M351.02 460.39V453.27M348.72 453.27H353.32"/>
<rect class="b" x="347.82" y="460.39" width="6.4" height="63.51"/>
<text class="m" x="351.02" y="451.3">b</text>
<text class="m" x="361.28" y="516.9">g</text>
<text class="m" x="371.95" y="516.9">g</text>
<text class="m" x="382.61" y="516.9">g</text>
<rect class="b" x="390.48" y="523.51" width="6.4" height="0.39"/>
<text class="m" x="393.28" y="516.9">g</text>
<text class="m" x="403.94" y="516.9">g</text>
<text class="m" x="414.61" y="516.9">g</text>
<text class="m" x="425.27" y="516.9">g</text>
<text class="m" x="435.94" y="516.9">g</text>
<rect class="ax" x="265.7" y="414.4" width="181.3" height="109.5"/>
<path class="tk" d="M265.7 523.9h2.4"/>
<text class="t" transform="translate(261.7 526.6) scale(0.93 1)">0</text>
<path class="tk" d="M265.7 508.26h2.4"/>
<text class="t" transform="translate(261.7 510.96) scale(0.93 1)">2</text>
<path class="tk" d="M265.7 492.61h2.4"/>
<text class="t" transform="translate(261.7 495.31) scale(0.93 1)">4</text>
<path class="tk" d="M265.7 476.97h2.4"/>
<text class="t" transform="translate(261.7 479.67) scale(0.93 1)">6</text>
<path class="tk" d="M265.7 461.33h2.4"/>
<text class="t" transform="translate(261.7 464.03) scale(0.93 1)">8</text>
<path class="tk" d="M265.7 445.69h2.4"/>
<text class="t" transform="translate(261.7 448.39) scale(0.93 1)">10</text>
<path class="tk" d="M265.7 430.04h2.4"/>
<text class="t" transform="translate(261.7 432.74) scale(0.93 1)">12</text>
<path class="tk" d="M265.7 414.4h2.4"/>
<text class="t" transform="translate(261.7 417.1) scale(0.93 1)">14</text>
<path class="tk" d="M276.36 523.9v2.4"/>
<text class="x" transform="translate(279.26 533) rotate(-44) scale(0.99 1)">YS1</text>
<path class="tk" d="M287.03 523.9v2.4"/>
<text class="x" transform="translate(289.93 533) rotate(-44) scale(0.99 1)">YS2</text>
<path class="tk" d="M297.69 523.9v2.4"/>
<text class="x" transform="translate(300.59 533) rotate(-44) scale(0.99 1)">YS3</text>
<path class="tk" d="M308.36 523.9v2.4"/>
<text class="x" transform="translate(311.26 533) rotate(-44) scale(0.99 1)">YS4</text>
<path class="tk" d="M319.02 523.9v2.4"/>
<text class="x" transform="translate(321.92 533) rotate(-44) scale(0.99 1)">YR1</text>
<path class="tk" d="M329.69 523.9v2.4"/>
<text class="x" transform="translate(332.59 533) rotate(-44) scale(0.99 1)">YR2</text>
<path class="tk" d="M340.35 523.9v2.4"/>
<text class="x" transform="translate(343.25 533) rotate(-44) scale(0.99 1)">YR3</text>
<path class="tk" d="M351.02 523.9v2.4"/>
<text class="x" transform="translate(353.92 533) rotate(-44) scale(0.99 1)">YR4</text>
<path class="tk" d="M361.68 523.9v2.4"/>
<text class="x" transform="translate(364.58 533) rotate(-44) scale(0.99 1)">HS1</text>
<path class="tk" d="M372.35 523.9v2.4"/>
<text class="x" transform="translate(375.25 533) rotate(-44) scale(0.99 1)">HS2</text>
<path class="tk" d="M383.01 523.9v2.4"/>
<text class="x" transform="translate(385.91 533) rotate(-44) scale(0.99 1)">HS3</text>
<path class="tk" d="M393.68 523.9v2.4"/>
<text class="x" transform="translate(396.58 533) rotate(-44) scale(0.99 1)">HS4</text>
<path class="tk" d="M404.34 523.9v2.4"/>
<text class="x" transform="translate(407.24 533) rotate(-44) scale(0.99 1)">HR1</text>
<path class="tk" d="M415.01 523.9v2.4"/>
<text class="x" transform="translate(417.91 533) rotate(-44) scale(0.99 1)">HR2</text>
<path class="tk" d="M425.67 523.9v2.4"/>
<text class="x" transform="translate(428.57 533) rotate(-44) scale(0.99 1)">HR3</text>
<path class="tk" d="M436.34 523.9v2.4"/>
<text class="x" transform="translate(439.24 533) rotate(-44) scale(0.99 1)">HR4</text>
<text class="m" transform="translate(249.4 469.5) rotate(-90)">Relative mRNA level</text>
<text class="r ti" x="443.9" y="430.8">MDP0000074681 (<tspan font-style="italic">MYB1R1-like</tspan>)</text>
</g>
</svg></body></html>
